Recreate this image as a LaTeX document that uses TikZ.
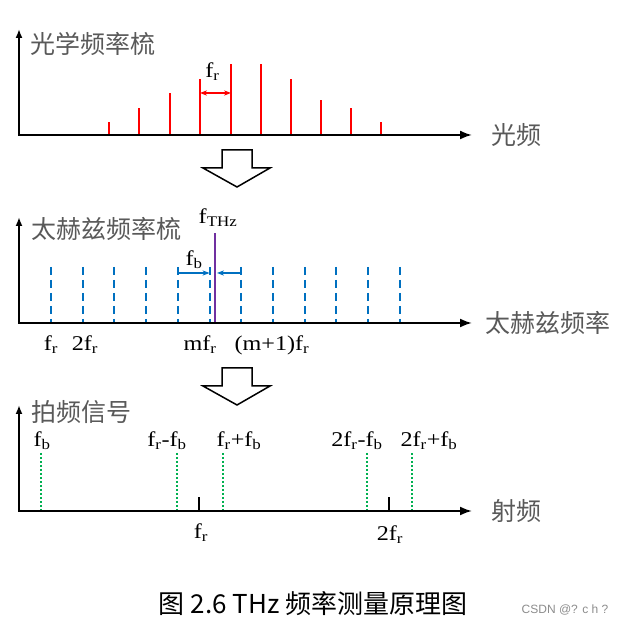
\documentclass[tikz,border=0pt]{standalone}
\usepackage{fontspec}
\setmainfont{Liberation Serif}
\newfontfamily\cjkfont{Noto Sans CJK SC}
\newfontfamily\freqfont[FakeStretch=1.15]{Liberation Serif}
\newfontfamily\markfont{Liberation Sans}
\usepackage{xcolor}
\usetikzlibrary{arrows.meta}
\usetikzlibrary{calc}
\usetikzlibrary{math}

\definecolor{combred}{HTML}{FF0000}
\definecolor{thzblue}{HTML}{0070C0}
\definecolor{thzpurple}{HTML}{7030A0}
\definecolor{beatgreen}{HTML}{00B050}
\definecolor{titlegray}{HTML}{595959}

\newcommand{\frep}{f\textsubscript{r}}
\newcommand{\fbeat}{f\textsubscript{b}}

\tikzset{
  freqaxis/.style={line width=2pt, line join=miter,
    {Latex[length=9pt,width=7pt]}-{Latex[length=12pt,width=9pt]}},
  combtitle/.style={font=\cjkfont\fontsize{25}{28}\selectfont, text=titlegray, inner sep=0pt},
  freq/.style={font=\freqfont\fontsize{21}{24}\selectfont, inner sep=0pt},
  tooth/.style={combred, line width=2pt},
  thzline/.style={thzblue, line width=2pt, dash pattern=on 8pt off 5pt},
  thzmark/.style={thzpurple, line width=2.5pt},
  beatarrow/.style={thzblue, line width=1.5pt, -{Stealth[length=7pt]}},
  beatline/.style={beatgreen, line width=2.2pt, dash pattern=on 2pt off 2pt},
  rftick/.style={black, line width=2pt},
  hollow/.style={black, line width=1.5pt, fill=white, line join=miter},
  downarrow/.pic={
    \draw[hollow] (-15,0) -- (-15,-18) -- (-34,-18) -- (0,-37)
      -- (33,-18) -- (15,-18) -- (15,0) -- cycle;
  },
  figcaption/.style={font=\cjkfont\fontsize{26}{30}\selectfont, inner sep=0pt},
  watermark/.style={font=\markfont\fontsize{12}{14}\selectfont, text=black!45, inner sep=0pt},
}

\begin{document}
\begin{tikzpicture}[x=1pt,y=1pt]

  \tikzmath{
    \xaxis   = 19;   % x of the vertical axes
    \xend    = 472;  % right end of the horizontal axes
    \yopt    = 489;  % optical axis
    \ythz    = 301;  % terahertz axis
    \yrf     = 113;  % radio frequency axis
    \haxis   = 106;  % height of the vertical axes
    \spacing = 31.7; % spacing of the terahertz comb lines
    \hthz    = 56;   % height of the terahertz comb lines
    \hbeat   = 58;   % height of the beat notes
  }

  \useasboundingbox (0,0) rectangle (629,624);

  % optical frequency comb
  \coordinate (OA) at (\xaxis, \yopt);
  \coordinate (XA) at (\xend, \yopt);
  \coordinate (YA) at (\xaxis, \yopt+\haxis);

  \foreach \x/\len in {109/13,139/27,170/42,200/56,231/71,261/71,291/56,321/35,351/27,381/13}
    \draw[tooth] (\x, \yopt) -- ++(0, \len);

  \draw[freqaxis] (YA) -- (OA) -- (XA);
  \node[combtitle] (optcomb) at (93, 580) {光学频率梳};
  \node[combtitle] (optfreq) at (516, \yopt) {光频};

  % repetition rate between two teeth
  \coordinate (RA) at (200, 531);
  \coordinate (RB) at (231, 531);
  \draw[tooth, {Stealth[length=7pt]}-{Stealth[length=7pt]}] (RA) -- (RB);
  \node[freq] (frep) at ($ (RA)!0.5!(RB) + (-3, 21) $) {\frep};

  % first conversion step
  \pic at (237, 474) {downarrow};

  % terahertz comb
  \coordinate (OB) at (\xaxis, \ythz);
  \coordinate (XB) at (\xend, \ythz);
  \coordinate (YB) at (\xaxis, \ythz+\haxis);

  \foreach \n in {0,...,11}
    \draw[thzline] (51+\n*\spacing, \ythz+\hthz) -- ++(0, -\hthz);

  % terahertz line to be measured
  \coordinate (THz) at (215, \ythz);
  \draw[thzmark] (THz) -- ++(0, 90);
  \node[freq] (fthz) at (218, 406) {f\textsubscript{THz}};

  \draw[freqaxis] (YB) -- (OB) -- (XB);
  \node[combtitle] (thzcomb) at (106, 395) {太赫兹频率梳};
  \node[combtitle] (thzfreq) at (548, \ythz) {太赫兹频率};

  % offset of the terahertz line from the m-th tooth
  \coordinate (BA) at (51+4*\spacing, \ythz+50);
  \coordinate (BM) at (51+5*\spacing, \ythz+50);
  \coordinate (BC) at (51+6*\spacing, \ythz+50);
  \coordinate (BT) at (217, \ythz+50);
  \draw[beatarrow] (BA) -- (BM);
  \draw[beatarrow] (BC) -- (BT);
  \node[freq] (fbA) at (194, 364) {\fbeat};

  % tooth numbers
  \node[freq] (n1) at (51, 279) {\frep};
  \node[freq] (n2) at (85, 279) {2\frep};
  \node[freq] (nm) at (200, 279) {m\frep};
  \node[freq] (nm1) at (272, 279) {(m+1)\frep};

  % second conversion step
  \pic at (237, 256) {downarrow};

  % beat signal
  \coordinate (OC) at (\xaxis, \yrf);
  \coordinate (XC) at (\xend, \yrf);
  \coordinate (YC) at (\xaxis, \yrf+\haxis);

  \foreach \x in {41,177,223,367,412}
    \draw[beatline] (\x, \yrf+\hbeat) -- ++(0, -\hbeat);

  \foreach \x in {199,389}
    \draw[rftick] (\x, \yrf) -- ++(0, 14);

  \draw[freqaxis] (YC) -- (OC) -- (XC);
  \node[combtitle] (beat) at (81, 212) {拍频信号};
  \node[combtitle] (rffreq) at (516, \yrf) {射频};

  \node[freq] (b1) at (42, 183) {\fbeat};
  \node[freq] (b2) at (167, 183) {\frep-\fbeat};
  \node[freq] (b3) at (239, 183) {\frep+\fbeat};
  \node[freq] (b4) at (357, 183) {2\frep-\fbeat};
  \node[freq] (b5) at (429, 183) {2\frep+\fbeat};

  \node[freq] (r1) at (201, 91) {\frep};
  \node[freq] (r2) at (390, 89) {2\frep};

  % caption
  \node[figcaption] (cap) at (313, 20) {图 2.6 THz 频率测量原理图};
  \node[watermark] (wm) at (565, 14) {CSDN @? c h ?};

\end{tikzpicture}
\end{document}
